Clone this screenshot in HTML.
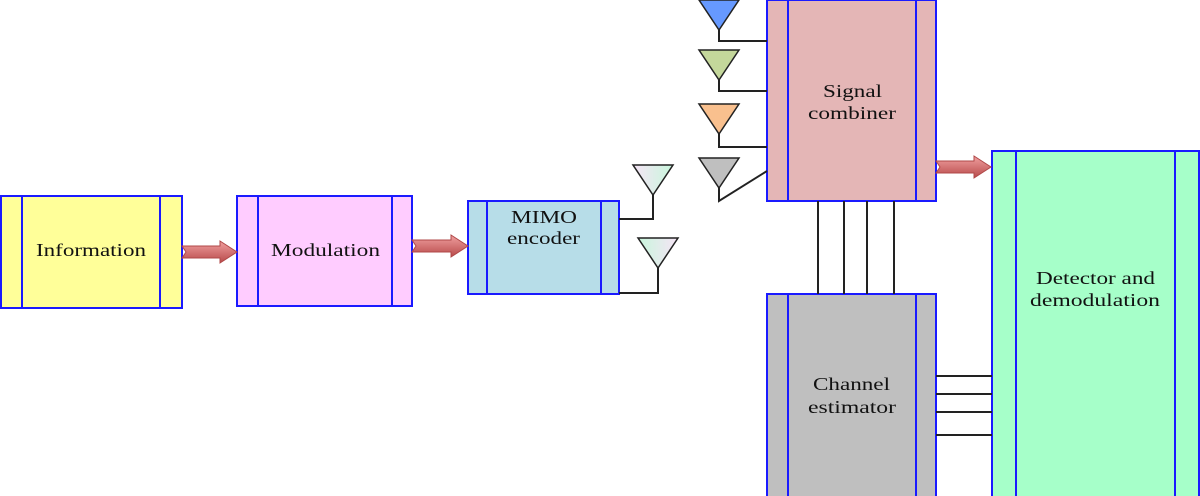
<!DOCTYPE html>
<html><head><meta charset="utf-8"><style>
html,body{margin:0;padding:0;background:#fff;width:1200px;height:496px;overflow:hidden}
text{font-family:"Liberation Serif",serif;font-size:18px;fill:#111}
</style></head><body>
<svg width="1200" height="496" viewBox="0 0 1200 496" xmlns="http://www.w3.org/2000/svg">
<defs>
<linearGradient id="ar" x1="0" y1="0" x2="0" y2="1"><stop offset="0" stop-color="#f0a0a0"/><stop offset="1" stop-color="#b84a4a"/></linearGradient>
<linearGradient id="g1" x1="0" x2="1"><stop offset="0" stop-color="#f6e4f6"/><stop offset="1" stop-color="#c8f6dc"/></linearGradient>
<linearGradient id="g2" x1="0" x2="1"><stop offset="0" stop-color="#c8f6dc"/><stop offset="1" stop-color="#f6e4f6"/></linearGradient>
</defs>
<g stroke="#1a1aff" stroke-width="2">
<rect x="1" y="196" width="181" height="112" fill="#ffff99"/><line x1="22" y1="196" x2="22" y2="308"/><line x1="160" y1="196" x2="160" y2="308"/>
<rect x="237" y="196" width="175" height="110" fill="#ffccff"/><line x1="258" y1="196" x2="258" y2="306"/><line x1="392" y1="196" x2="392" y2="306"/>
<rect x="468" y="201" width="151" height="93" fill="#b7dde8"/><line x1="487" y1="201" x2="487" y2="294"/><line x1="601" y1="201" x2="601" y2="294"/>
<rect x="767" y="0" width="169" height="201" fill="#e4b6b6"/><line x1="788" y1="0" x2="788" y2="201"/><line x1="916" y1="0" x2="916" y2="201"/>
<rect x="767" y="294" width="169" height="203" fill="#bfbfbf"/><line x1="788" y1="294" x2="788" y2="497"/><line x1="916" y1="294" x2="916" y2="497"/>
<rect x="992" y="151" width="207" height="346" fill="#a6ffc9"/><line x1="1016" y1="151" x2="1016" y2="497"/><line x1="1175" y1="151" x2="1175" y2="497"/>
</g>
<g stroke="#222" stroke-width="2" fill="none">
<polyline points="719,30 719,41 767,41"/>
<polyline points="719,80 719,91 767,91"/>
<polyline points="719,134 719,147 767,147"/>
<polyline points="719,188 719,201 767,171"/>
<polyline points="653,195 653,219 619,219"/>
<polyline points="658,268 658,293 619,293"/>
<line x1="818" y1="201" x2="818" y2="294"/><line x1="844" y1="201" x2="844" y2="294"/>
<line x1="867" y1="201" x2="867" y2="294"/><line x1="894" y1="201" x2="894" y2="294"/>
<line x1="936" y1="376" x2="992" y2="376"/><line x1="936" y1="394" x2="992" y2="394"/>
<line x1="936" y1="412" x2="992" y2="412"/><line x1="936" y1="435" x2="992" y2="435"/>
</g>
<g stroke="#222" stroke-width="1.5">
<polygon points="699,0 739,0 719,30" fill="#6699ff"/>
<polygon points="699,50 739,50 719,80" fill="#c4d79b"/>
<polygon points="699,104 739,104 719,134" fill="#f9c08e"/>
<polygon points="699,158 739,158 719,188" fill="#bfbfbf"/>
<polygon points="633,165 673,165 653,195" fill="url(#g1)"/>
<polygon points="638,238 678,238 658,268" fill="url(#g2)"/>
</g>
<g fill="url(#ar)" stroke="#b04848" stroke-width="1">
<polygon points="182,246 220,246 220,241 237,252 220,263 220,258 182,258 186,252"/>
<polygon points="412,240 451,240 451,235 468,246 451,257 451,252 412,252 416,246"/>
<polygon points="936,161 974,161 974,156 991,167 974,178 974,173 936,173 940,167"/>
</g>
<text x="36" y="256" textLength="110" lengthAdjust="spacingAndGlyphs">Information</text>
<text x="271" y="256" textLength="109" lengthAdjust="spacingAndGlyphs">Modulation</text>
<text x="511" y="223" textLength="66" lengthAdjust="spacingAndGlyphs">MIMO</text>
<text x="507" y="244" textLength="73" lengthAdjust="spacingAndGlyphs">encoder</text>
<text x="823" y="97" textLength="59" lengthAdjust="spacingAndGlyphs">Signal</text>
<text x="808" y="119" textLength="88" lengthAdjust="spacingAndGlyphs">combiner</text>
<text x="813" y="390" textLength="77" lengthAdjust="spacingAndGlyphs">Channel</text>
<text x="808" y="413" textLength="88" lengthAdjust="spacingAndGlyphs">estimator</text>
<text x="1036" y="284" textLength="119" lengthAdjust="spacingAndGlyphs">Detector and</text>
<text x="1030" y="306" textLength="130" lengthAdjust="spacingAndGlyphs">demodulation</text>
</svg>
</body></html>
